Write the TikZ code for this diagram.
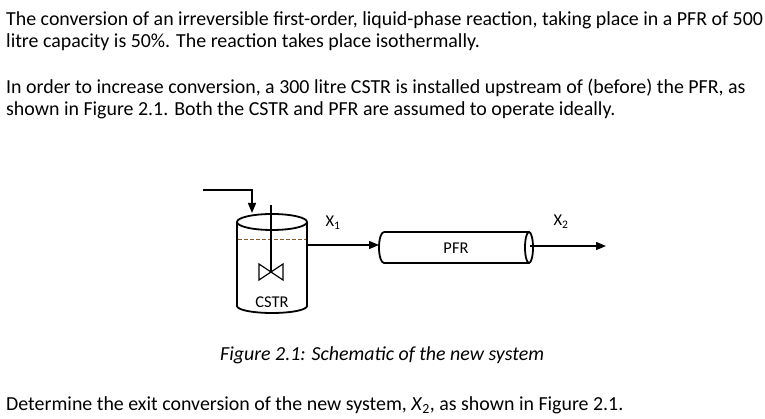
\documentclass[tikz,border=0pt]{standalone}
\usepackage{fontspec}
\setmainfont{Carlito}
\usetikzlibrary{arrows.meta}
\begin{document}
\begin{tikzpicture}[x=1pt,y=1pt,
  txt/.style={anchor=west,inner sep=0pt,font=\fontsize{19.9}{22}\selectfont},
  lbl/.style={inner sep=0pt,font=\fontsize{16.5}{18}\selectfont},
  pipe/.style={line width=1.4pt,-{Triangle[length=10pt,width=8pt]}},
  vessel/.style={line width=1.8pt}]
\useasboundingbox (0,0) rectangle (765,-419);
\node[txt] (t1) at (6,-20) {The conversion of an irreversible first-order, liquid-phase reaction, taking place in a PFR of 500};
\node[txt] (t2) at (6,-42) {litre capacity is 50\%. The reaction takes place isothermally.};
\node[txt] (t3) at (6,-88) {In order to increase conversion, a 300 litre CSTR is installed upstream of (before) the PFR, as};
\node[txt] (t4) at (6,-110) {shown in Figure 2.1. Both the CSTR and PFR are assumed to operate ideally.};
\node[txt,font=\fontsize{19.9}{22}\selectfont\itshape] (cap) at (220,-355) {Figure 2.1: Schematic of the new system};
\node[txt] (t5) at (6,-405) {Determine the exit conversion of the new system, \textit{X}\textsubscript{2}, as shown in Figure 2.1.};
% CSTR
\draw[vessel] (237,-222) -- (237,-306) arc[start angle=180,end angle=360,x radius=35,y radius=7] -- (307,-222);
\draw[vessel] (272,-222) ellipse[x radius=35,y radius=8];
\draw[dashed,dash pattern=on 4pt off 2pt,color=brown!70!black,line width=1pt] (238,-240) -- (306,-240);
\draw[line width=1.4pt] (271,-205) -- (271,-272);
\draw[line width=1.2pt] (259,-264) -- (259,-280) -- (283,-264) -- (283,-280) -- cycle;
\node[lbl] (cstr) at (272,-302) {CSTR};
\coordinate (feed0) at (203,-190);
\coordinate (feed1) at (252,-190);
\coordinate (feed2) at (252,-213);
\draw[pipe] (feed0) -- (feed1) -- (feed2);
% PFR
\draw[vessel] (384,-232) -- (529,-232) arc[start angle=90,end angle=-90,x radius=4,y radius=15.5] -- (384,-263) arc[start angle=270,end angle=90,x radius=5,y radius=15.5];
\draw[vessel] (529,-232) arc[start angle=90,end angle=270,x radius=4,y radius=15.5];
\node[lbl] (pfr) at (456,-248) {PFR};
\coordinate (o1) at (307,-245);
\coordinate (i1) at (379,-245);
\draw[pipe] (o1) -- (i1);
\coordinate (o2) at (530,-246);
\coordinate (e2) at (606,-246);
\draw[pipe] (o2) -- (e2);
\node[lbl] (x1) at (333,-223) {X\textsubscript{1}};
\node[lbl] (x2) at (561,-222) {X\textsubscript{2}};
\end{tikzpicture}
\end{document}
